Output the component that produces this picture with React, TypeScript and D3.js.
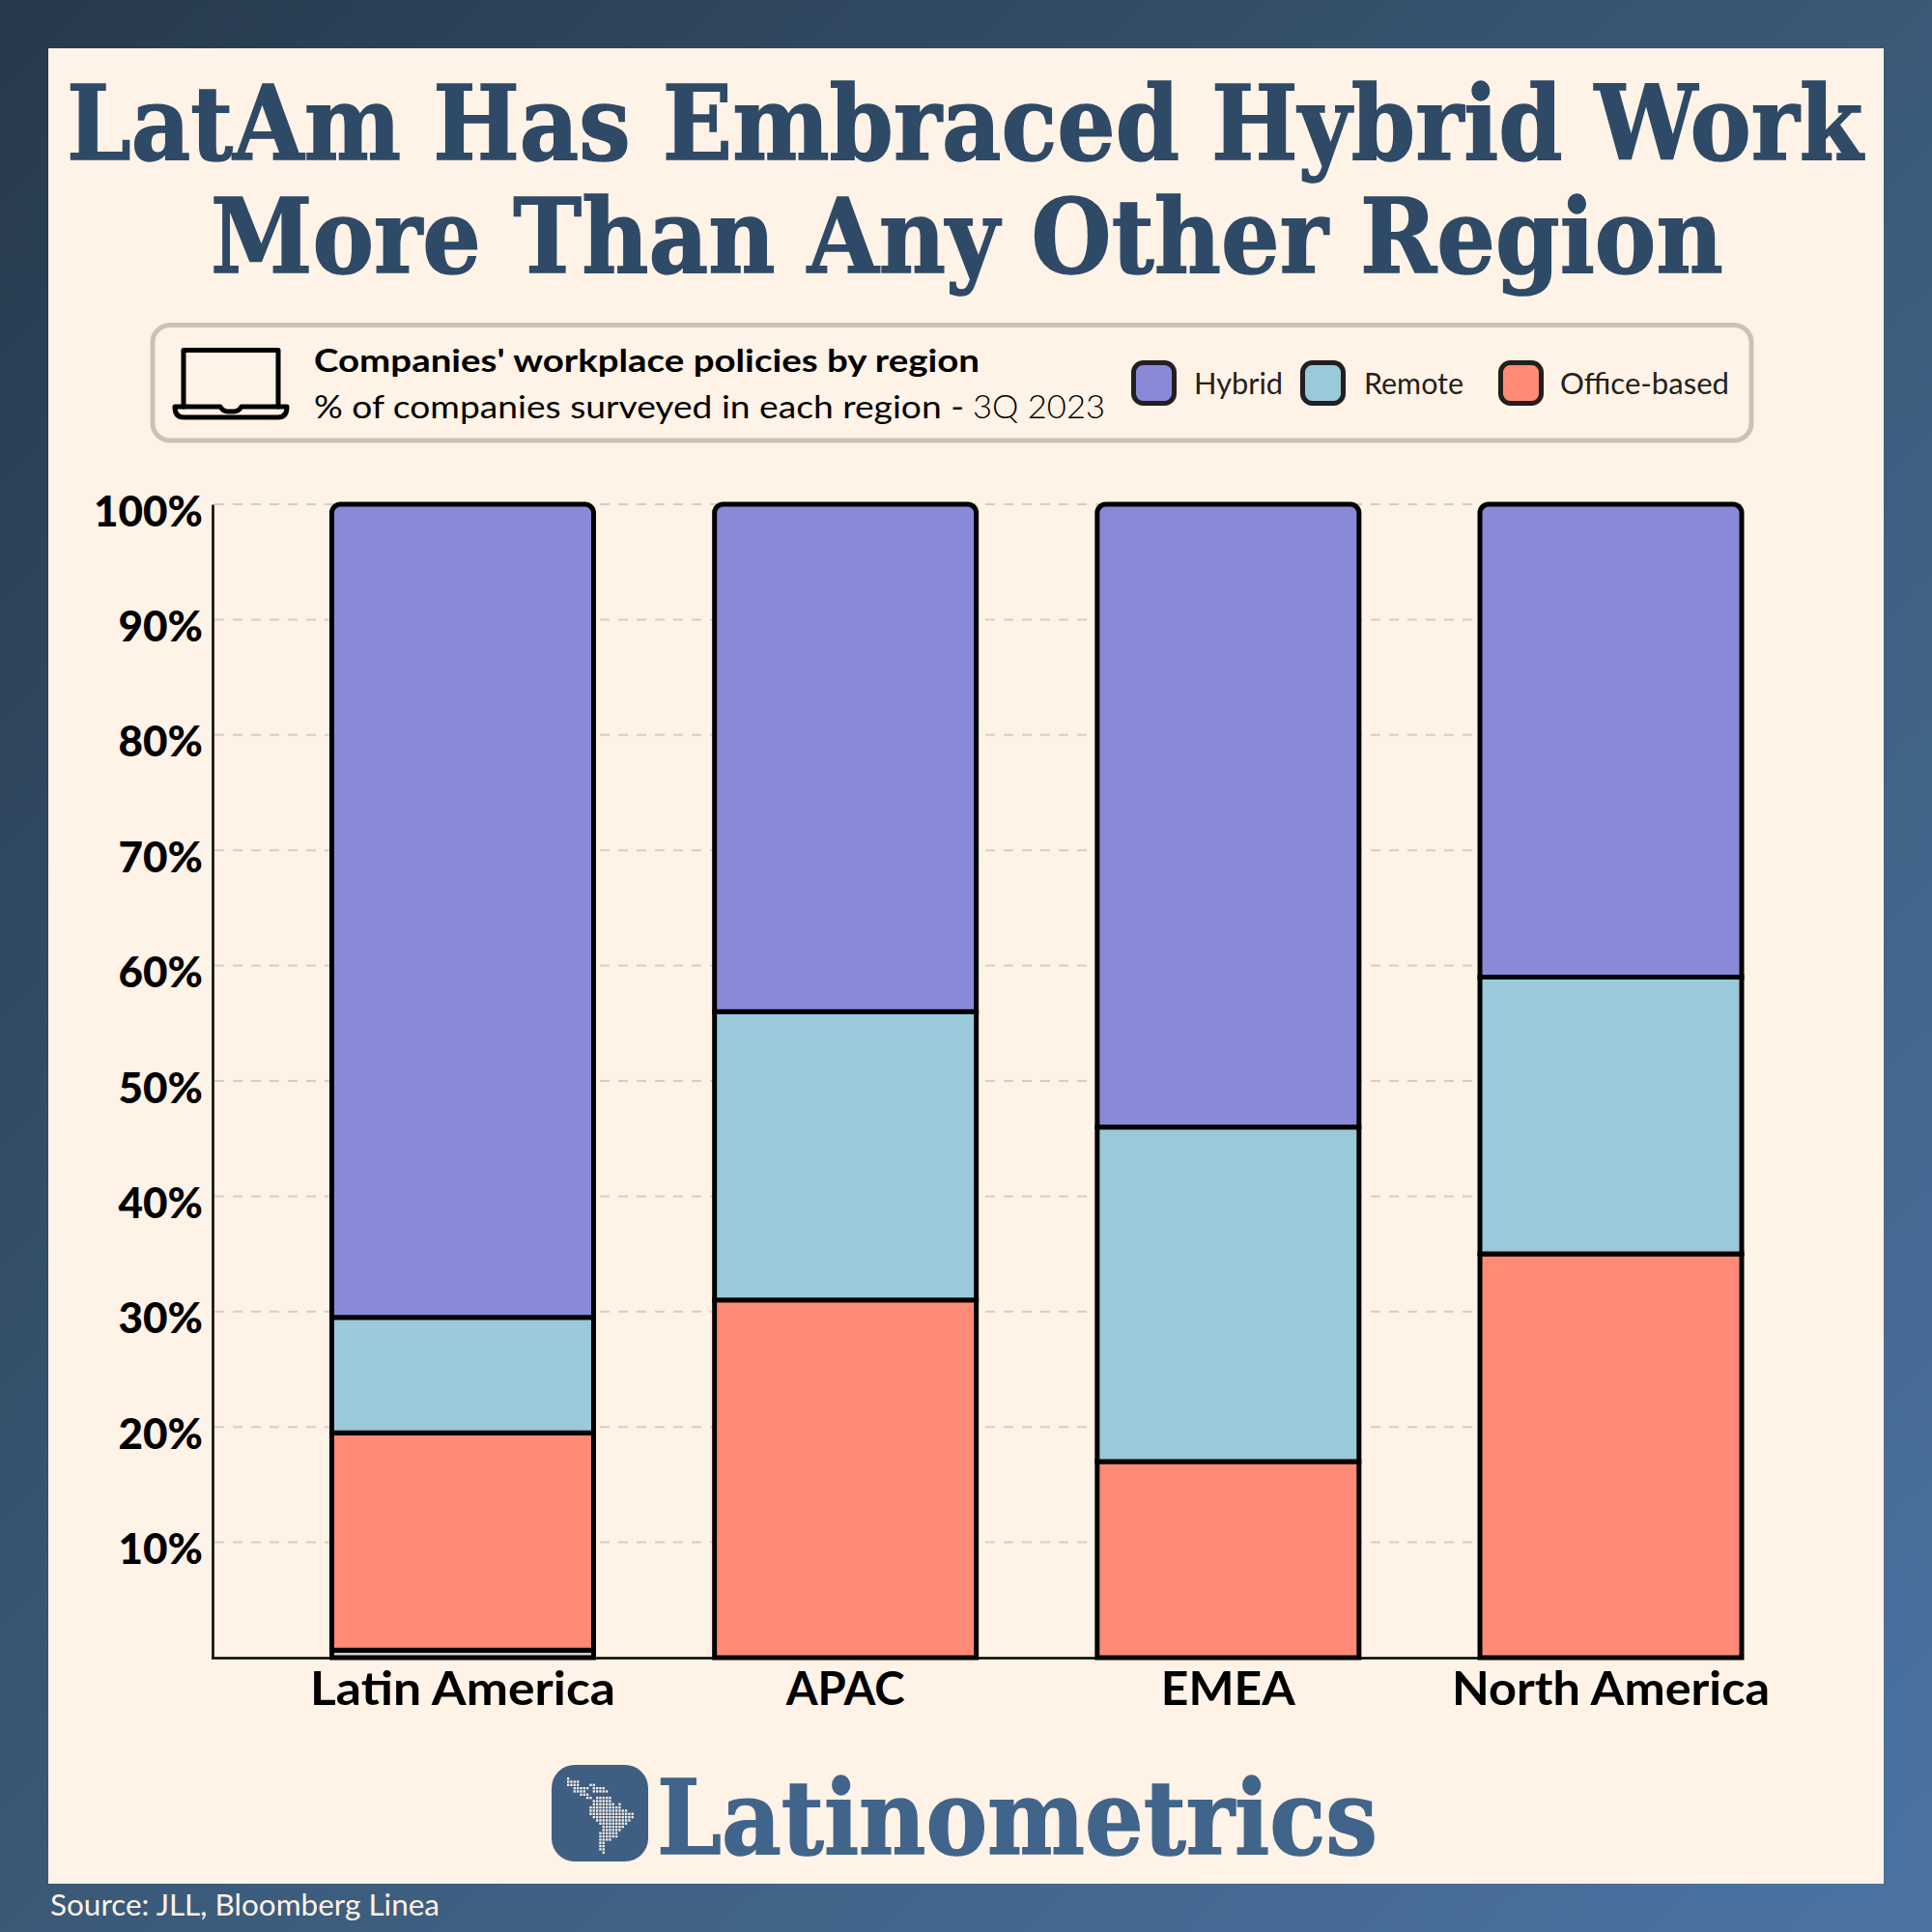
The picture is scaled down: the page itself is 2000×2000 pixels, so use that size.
import React, { useEffect, useLayoutEffect, useRef } from 'react';
import * as d3 from 'd3';

const regions = ['Latin America', 'APAC', 'EMEA', 'North America'];
const other = [0.65, 0, 0, 0];
const officeBased = [18.85, 31, 17, 35];
const remote = [10, 25, 29, 24];
const hybrid = [70.5, 44, 54, 41];
const yTicks = [10, 20, 30, 40, 50, 60, 70, 80, 90, 100];

const seriesKeys = ['other', 'officeBased', 'remote', 'hybrid'];
const seriesColors: Record<string, string> = {
  other: '#D9CFC4',
  officeBased: '#FF8A75',
  remote: '#9ACAD9',
  hybrid: '#8989DA',
};

const legendItems = [
  { label: 'Hybrid', color: '#8989DA', x: 1173.5, tx: 1236, w: 92 },
  { label: 'Remote', color: '#9ACAD9', x: 1348.5, tx: 1412, w: 103 },
  { label: 'Office-based', color: '#FF8A75', x: 1553.5, tx: 1615, w: 175 },
];

const regionLabelWidths = [316, 123, 139, 329];

// logo map, one [row, first col, last col] per run of dots
const mapRuns = [
  [0, 0, 0], [1, 0, 3], [2, 0, 3], [2, 7, 8], [3, 2, 4], [3, 5, 6], [3, 8, 11],
  [4, 2, 5], [4, 8, 12], [5, 4, 6], [6, 6, 7], [6, 9, 13], [7, 8, 13], [8, 8, 14],
  [8, 16, 16], [9, 7, 16], [10, 7, 18], [11, 7, 20], [12, 8, 20], [13, 9, 19],
  [14, 10, 18], [15, 11, 17], [16, 11, 16], [17, 10, 15], [18, 10, 15], [19, 10, 13],
  [20, 10, 11], [21, 10, 11], [22, 10, 11], [23, 11, 11],
];

const JOSEFIN = 'Lato, "Noto Sans", sans-serif';
const SERIF = '"DejaVu Serif", serif';

// squeezes a serif line to a given width, the fonts here run wider than the original
const FitText: React.FC<{ x: number; y: number; width: number; children: string }> = ({ x, y, width, children }) => {
  const ref = useRef<SVGTextElement>(null);
  useLayoutEffect(() => {
    if (!ref.current) return;
    const len = ref.current.getComputedTextLength();
    ref.current.setAttribute('transform', `translate(${x},${y}) scale(${width / len},1)`);
  }, [x, y, width, children]);
  return <text ref={ref} transform={`translate(${x},${y})`}>{children}</text>;
};

const App: React.FC = () => {
  const chartRef = useRef<SVGGElement>(null);

  useEffect(() => {
    if (!chartRef.current) return;
    const g = d3.select(chartRef.current);
    g.selectAll('*').remove();

    const x = d3.scaleBand<string>().domain(regions).range([343.5, 1803]).paddingInner(0.316).paddingOuter(0);
    const y = d3.scaleLinear().domain([0, 100]).range([1716, 522]);

    // gridlines
    g.append('g')
      .selectAll('line')
      .data(yTicks)
      .join('line')
      .attr('x1', 222)
      .attr('x2', 1803)
      .attr('y1', d => y(d))
      .attr('y2', d => y(d))
      .attr('stroke', '#D6CDC3')
      .attr('stroke-width', 2)
      .attr('stroke-dasharray', '10 9');

    const table = regions.map((region, i) => ({
      region,
      other: other[i],
      officeBased: officeBased[i],
      remote: remote[i],
      hybrid: hybrid[i],
    }));
    const stacked = d3.stack<any>().keys(seriesKeys)(table);

    const roundedTop = (x0: number, x1: number, yTop: number, yBottom: number, r: number) => {
      const p = d3.path();
      p.moveTo(x0, yBottom);
      p.lineTo(x0, yTop + r);
      p.arcTo(x0, yTop, x0 + r, yTop, r);
      p.lineTo(x1 - r, yTop);
      p.arcTo(x1, yTop, x1, yTop + r, r);
      p.lineTo(x1, yBottom);
      p.closePath();
      return p.toString();
    };

    g.append('g')
      .selectAll('g')
      .data(stacked)
      .join('g')
      .attr('fill', d => seriesColors[d.key])
      .selectAll('path')
      .data(d => d.map(v => ({ key: d.key, v })).filter(e => e.v[1] > e.v[0]))
      .join('path')
      .attr('d', e => {
        const x0 = x(e.v.data.region)!;
        const r = e.key === 'hybrid' ? 9 : 0;
        return roundedTop(x0, x0 + x.bandwidth(), y(e.v[1]), y(e.v[0]), r);
      })
      .attr('stroke', '#000')
      .attr('stroke-width', 5)
      .attr('stroke-linejoin', 'miter');

    // axes
    const yAxis = d3.axisLeft(y)
      .tickValues(yTicks)
      .tickSize(0)
      .tickPadding(0)
      .tickFormat(d => `${d}%`);
    const yG = g.append('g').attr('transform', 'translate(220,0)').call(yAxis);
    yG.select('.domain').attr('stroke', '#000').attr('stroke-width', 2.5);
    yG.selectAll('text')
      .attr('x', -10)
      .attr('dy', 22)
      .attr('fill', '#000')
      .attr('font-family', JOSEFIN)
      .attr('font-weight', 900)
      .attr('font-size', 44);

    const xAxis = d3.axisBottom(x)
      .tickSize(0)
      .tickPadding(0);
    const xG = g.append('g').attr('transform', 'translate(0,1716)').call(xAxis);
    xG.select('.domain').remove();
    xG.selectAll('text')
      .attr('y', 49)
      .attr('dy', 0)
      .attr('fill', '#000')
      .attr('font-family', JOSEFIN)
      .attr('font-weight', 700)
      .attr('font-size', 48)
      .attr('textLength', (_, i) => regionLabelWidths[i])
      .attr('lengthAdjust', 'spacingAndGlyphs');
    g.append('line')
      .attr('x1', 219)
      .attr('x2', 1803)
      .attr('y1', 1716.5)
      .attr('y2', 1716.5)
      .attr('stroke', '#000')
      .attr('stroke-width', 2.5);
  }, []);

  return (
    <svg width={2000} height={2000} viewBox="0 0 2000 2000" style={{ position: 'absolute', left: 0, top: 0 }}>
      <defs>
        <linearGradient id="bg" x1="0" y1="0" x2="1" y2="1">
          <stop offset="0" stopColor="#27394C" />
          <stop offset="0.5" stopColor="#3A5977" />
          <stop offset="1" stopColor="#4B74A3" />
        </linearGradient>
      </defs>
      <rect width={2000} height={2000} fill="url(#bg)" />
      <rect x={50} y={50} width={1900} height={1900} fill="#FFF2E6" />

      <g fontFamily={SERIF} fontWeight={700} fontSize={107} fill="#2F4A66" stroke="#2F4A66" strokeWidth={1.5}>
        <FitText x={69} y={165} width={1860}>LatAm Has Embraced Hybrid Work</FitText>
        <FitText x={218} y={282} width={1566}>More Than Any Other Region</FitText>
      </g>

      <rect x={158} y={336.5} width={1655} height={119.5} rx={18} fill="none" stroke="#CDC0B4" strokeWidth={5} />

      {/* laptop icon */}
      <g fill="none" stroke="#000" strokeWidth={5} strokeLinejoin="round" strokeLinecap="round">
        <path d="M190 421V362.5H288V421" />
        <path d="M181 421H228Q231 426 236 426H242Q247 426 250 421H297Q297 432 288 432H190Q181 432 181 421Z" />
      </g>

      <text x={325} y={385} fontFamily={JOSEFIN} fontWeight={700} fontSize={33} fill="#000" textLength={689} lengthAdjust="spacingAndGlyphs">
        Companies' workplace policies by region
      </text>
      <text x={325} y={433} fontFamily={JOSEFIN} fontWeight={400} fontSize={33} fill="#000" textLength={673} lengthAdjust="spacingAndGlyphs">
        % of companies surveyed in each region -
      </text>
      <text x={1007} y={433} fontFamily={JOSEFIN} fontWeight={300} fontSize={33} fill="#000" textLength={137} lengthAdjust="spacingAndGlyphs">
        3Q 2023
      </text>

      {legendItems.map(d => (
        <g key={d.label}>
          <rect x={d.x} y={375.5} width={42} height={42} rx={10} fill={d.color} stroke="#231F20" strokeWidth={5} />
          <text x={d.tx} y={408} fontFamily={JOSEFIN} fontSize={30} fill="#231F20" textLength={d.w} lengthAdjust="spacingAndGlyphs">{d.label}</text>
        </g>
      ))}

      <g ref={chartRef} />

      <rect x={571} y={1827} width={100} height={100} rx={24} fill="#3F5F82" />
      <g fill="#FFF2E6">
        {mapRuns.flatMap(([row, from, to]) =>
          d3.range(from, to + 1).map(col => (
            <rect key={`${row}-${col}`} x={587 + col * 3.33} y={1840 + row * 3.33} width={2.3} height={2.3} />
          ))
        )}
      </g>
      <g fontFamily={SERIF} fontWeight={700} fontSize={107} fill="#41648A" stroke="#41648A" strokeWidth={1.5}>
        <FitText x={680} y={1919} width={746}>Latinometrics</FitText>
      </g>

      <text x={52} y={1983} fontFamily={JOSEFIN} fontSize={30} fill="#FFF2E6" textLength={403} lengthAdjust="spacingAndGlyphs">
        Source: JLL, Bloomberg Linea
      </text>
    </svg>
  );
};

export default App;
